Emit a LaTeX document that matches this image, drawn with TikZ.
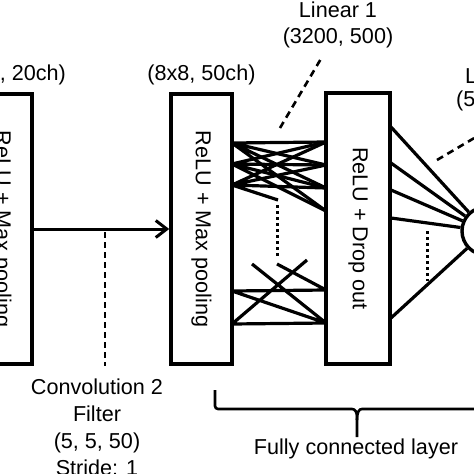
\documentclass[tikz,border=0pt]{standalone}
\usepackage{fontspec}
\setmainfont{Liberation Sans}
\usetikzlibrary{arrows.meta}
\begin{document}
\begin{tikzpicture}[x=1pt, y=-1pt,
		every node/.style={font=\fontsize{21.6}{27}\selectfont, inner sep=0pt},
		layerbox/.style={shape=rectangle, draw=black, line width=3.6pt, minimum width=61pt, minimum height=270pt},
		link/.style={line width=3.2pt},
		leader/.style={line width=2.6pt, dash pattern=on 7pt off 5pt},
		gap/.style={line width=3pt, dash pattern=on 3pt off 3pt}]
			\useasboundingbox (0,0) rectangle (474,474);
			\clip (0,0) rectangle (474,474);
			%Layer boxes:
			\path
				(1.5, 229) node[layerbox] (pool1) {}
				(201.5, 229) node[layerbox] (pool2) {}
				(358, 228.5) node[layerbox, minimum width=64pt, minimum height=271pt] (drop1) {}
				(486, 231) node[shape=circle, draw=black, line width=3.4pt, minimum size=48pt] (out) {};
			\path
				(1.5, 229) node[rotate=-90] (pool1txt) {ReLU + Max pooling}
				(201.5, 229) node[rotate=-90] (pool2txt) {ReLU + Max pooling}
				(358, 228.5) node[rotate=-90] (drop1txt) {ReLU + Drop out};
			%Labels:
			\path
				(66, 80) node[anchor=base east] (size1) {, 20ch)}
				(201.5, 80) node[anchor=base] (size2) {(8x8, 50ch)}
				(338, 17) node[anchor=base] (lin1) {Linear 1}
				(338, 43) node[anchor=base] (lin1dim) {(3200, 500)}
				(465, 83) node[anchor=base west] (lin2) {L}
				(456, 106) node[anchor=base west] (lin2dim) {(5}
				(97, 379) node[anchor=north, align=center] (conv2) {Convolution 2\\Filter\\(5, 5, 50)\\Stride: 1}
				(356, 454) node[anchor=base] (fc) {Fully connected layer};
			%Convolution 2:
			\draw[line width=3pt, -{Straight Barb[length=11pt, width=17pt, line width=3pt]}] (pool1.east) -- (pool2.west);
			\coordinate (c2top) at (105, 232);
			\coordinate (c2bot) at (105, 366);
			\draw[leader, dash pattern=on 6pt off 4pt] (c2top) -- (c2bot);
			%Linear 1:
			\coordinate (a1) at (232, 143);
			\coordinate (a2) at (232, 164);
			\coordinate (a3) at (232, 185);
			\coordinate (a4) at (232, 291);
			\coordinate (a5) at (232, 324);
			\coordinate (r1) at (326, 142);
			\coordinate (r2) at (326, 165);
			\coordinate (r3) at (326, 188);
			\coordinate (r4) at (326, 211);
			\coordinate (r5) at (326, 290);
			\coordinate (r6) at (326, 323);
			\coordinate (t1) at (278, 200);
			\coordinate (t2) at (307, 260);
			\coordinate (t3) at (252, 264);
			\coordinate (t4) at (277, 264);
			\draw[link] (a1) -- (r1) (a1) -- (r2) (a1) -- (r3) (a1) -- (r4);
			\draw[link] (a2) -- (r1) (a2) -- (r2) (a2) -- (r3) (a2) -- (r4);
			\draw[link] (a3) -- (r1) (a3) -- (r2) (a3) -- (r3) (a3) -- (t1);
			\draw[link] (a4) -- (r5) (a5) -- (r6) (a4) -- (r6) (a5) -- (t2) (t3) -- (r6) (t4) -- (r5);
			\coordinate (g1top) at (277, 205);
			\coordinate (g1bot) at (277, 259);
			\draw[gap] (g1top) -- (g1bot);
			\coordinate (l1a) at (280, 128);
			\coordinate (l1b) at (322, 57);
			\draw[leader] (l1a) -- (l1b);
			%Linear 2:
			\coordinate (d1) at (391, 127);
			\coordinate (d2) at (391, 163);
			\coordinate (d3) at (391, 190);
			\coordinate (d4) at (391, 218);
			\coordinate (d5) at (391, 318);
			\draw[link] (d1) -- (out) (d2) -- (out) (d3) -- (out) (d4) -- (out) (d5) -- (out);
			\coordinate (g2top) at (427, 231);
			\coordinate (g2bot) at (427, 281);
			\draw[gap] (g2top) -- (g2bot);
			\coordinate (l2a) at (437, 160);
			\coordinate (l2b) at (476, 137);
			\draw[leader] (l2a) -- (l2b);
			%Fully connected brace:
			\coordinate (bl) at (215, 390);
			\coordinate (bm) at (357, 437);
			\coordinate (br) at (499, 390);
			\draw[line width=2.6pt, rounded corners=3pt] (bl) |- (349, 409) .. controls (355, 409) and (357, 412) .. (357, 420) -- (bm);
			\draw[line width=2.6pt, rounded corners=3pt] (br) |- (365, 409) .. controls (359, 409) and (357, 412) .. (357, 420);
			\end{tikzpicture}
\end{document}
